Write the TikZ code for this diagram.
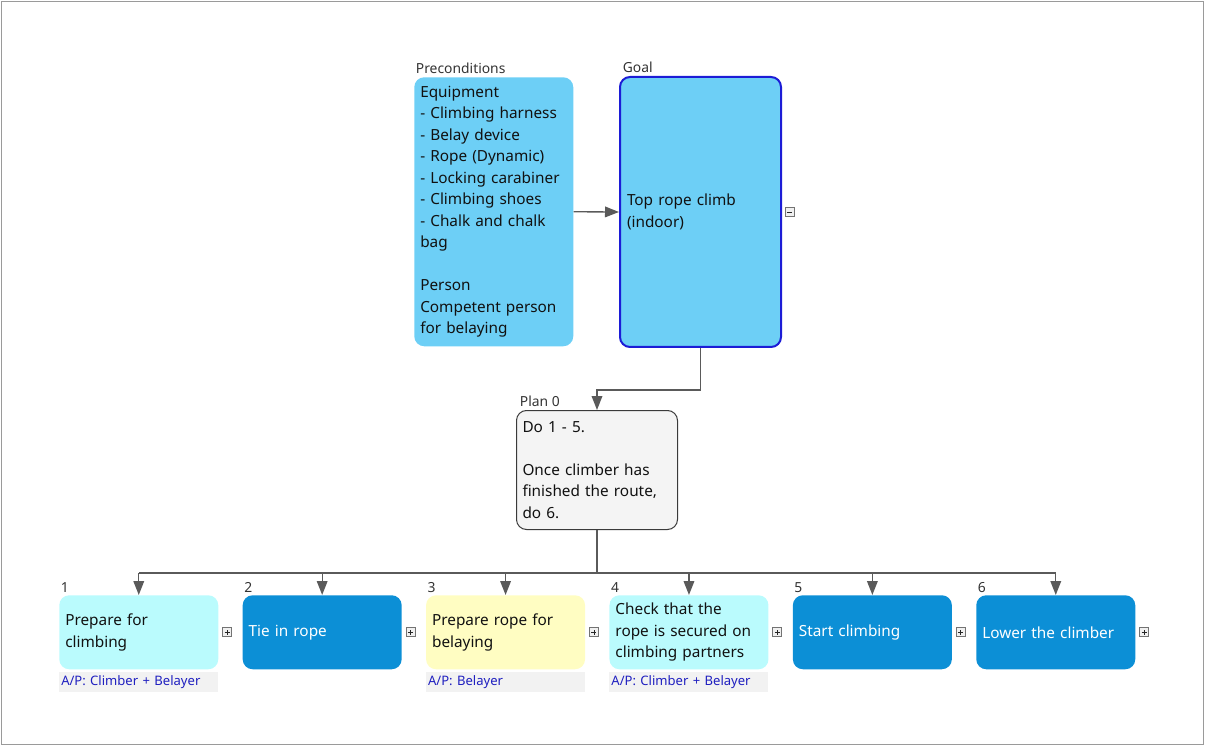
\documentclass[tikz,border=0pt]{standalone}
\usepackage{fontspec}
\setmainfont{Noto Sans}
\usepackage{xcolor}
\usetikzlibrary{positioning, arrows.meta}
\definecolor{skyfill}{HTML}{6DCFF6}
\definecolor{goalblue}{HTML}{1C1CD6}
\definecolor{planfill}{HTML}{F4F4F4}
\definecolor{planline}{HTML}{3A3A3A}
\definecolor{taskblue}{HTML}{0C8FD6}
\definecolor{taskcyan}{HTML}{BAFBFD}
\definecolor{taskyellow}{HTML}{FFFDC2}
\definecolor{apgray}{HTML}{F2F2F2}
\definecolor{apblue}{HTML}{2020C0}
\definecolor{conngray}{HTML}{5A5A5A}
\definecolor{framegray}{HTML}{9A9A9A}
\definecolor{inkdark}{HTML}{111111}

\tikzset{
  box/.style={anchor=north west, rounded corners=7.5pt, inner xsep=4.5pt,
    inner ysep=3pt, align=left, text=inkdark,
    font=\fontsize{11.5}{16.1}\selectfont},
  taskbox/.style={box, text width=110.25pt, minimum height=55.5pt},
  tasklight/.style={taskbox, fill=taskcyan},
  taskdark/.style={taskbox, fill=taskblue, text=white},
  taskyellow/.style={taskbox, fill=taskyellow},
  toplbl/.style={anchor=south west, inner xsep=1.2pt, inner ysep=2.5pt,
    text=black!80, font=\fontsize{10.4}{12}\selectfont},
  numlbl/.style={toplbl, inner ysep=1.5pt},
  apband/.style={anchor=north west, fill=apgray, text=apblue, align=left,
    inner xsep=1.5pt, inner ysep=0pt, text width=116.25pt,
    minimum height=15.5pt, font=\fontsize{9.8}{11}\selectfont},
  conn/.style={draw=conngray, line width=1pt},
  arr/.style={conn, -{Triangle[width=8pt, length=10.5pt]}},
  expbox/.style={draw=black!55, fill=black!6, minimum size=6.75pt,
    inner sep=0pt, line width=0.5pt},
  plusbox/.style={expbox, path picture={
    \draw[line width=0.6pt, black!85]
      ([xshift=-1.9pt]path picture bounding box.center) --
      ([xshift=1.9pt]path picture bounding box.center)
      ([yshift=-1.9pt]path picture bounding box.center) --
      ([yshift=1.9pt]path picture bounding box.center);}},
  minusbox/.style={expbox, path picture={
    \draw[line width=0.6pt, black!85]
      ([xshift=-1.9pt]path picture bounding box.center) --
      ([xshift=1.9pt]path picture bounding box.center);}}
}

\begin{document}
\begin{tikzpicture}[x=0.75pt, y=-0.75pt]
  % page and frame
  \useasboundingbox (0,0) rectangle (1206,748);
  \draw[framegray, line width=1.1pt] (1.5,1.5) rectangle (1203.5,744.5);

  % preconditions and goal
  \node[box, fill=skyfill, text width=110.25pt, minimum height=201.75pt]
    (precond) at (414,77) {Equipment\\- Climbing harness\\- Belay device\\
      - Rope (Dynamic)\\- Locking carabiner\\- Climbing shoes\\
      - Chalk and chalk\\bag\\[16.1pt]Person\\Competent person\\for belaying};
  \node[box, fill=skyfill, draw=goalblue, line width=1.5pt, inner xsep=5.25pt,
        text width=110.25pt, minimum height=202.5pt]
    (goal) at (619,76) {Top rope climb\\(indoor)};
  \node[toplbl] (precondlbl) at (precond.north west) {Preconditions};
  \node[toplbl] (goallbl) at ([xshift=1.5pt]goal.north west) {Goal};
  \node[minusbox, right=2pt of goal] (goalexp) {};
  \draw[arr] (precond.east) -- (goal.west);

  % plan
  \node[box, fill=planfill, draw=planline, line width=0.75pt,
        text width=111.75pt, minimum height=89.25pt]
    (plan) at (516,410) {Do 1 - 5.\\[16.1pt]Once climber has\\
      finished the route,\\do 6.};
  \node[toplbl] (planlbl) at ([xshift=1.5pt]plan.north west) {Plan 0};
  \draw[arr] (goal.south) -- ++(0,42) -| (plan.north);

  % subtasks
  \foreach \i/\sty/\txt in {1/tasklight/{Prepare for\\climbing},
      2/taskdark/{Tie in rope}, 3/taskyellow/{Prepare rope for\\belaying},
      4/tasklight/{Check that the\\rope is secured on\\climbing partners},
      5/taskdark/{Start climbing}, 6/taskdark/{Lower the climber}}
  {
    \pgfmathsetmacro{\xx}{59+(\i-1)*183.4}
    \node[\sty] (task\i) at (\xx,595) {\txt};
    \node[numlbl] (num\i) at (task\i.north west) {\i};
    \node[plusbox, right=2.8pt of task\i] (exp\i) {};
  }
  \foreach \i/\who in {1/Climber + Belayer, 3/Belayer, 4/Climber + Belayer}
    \node[apband] (ap\i) at ([yshift=-1.5pt]task\i.south west) {A/P: \who};

  % plan to subtasks
  \draw[conn] (plan.south) -- ++(0,43) coordinate (bus);
  \draw[conn] (task1.north |- bus) -- (task6.north |- bus);
  \foreach \i in {1,...,6}
    \draw[arr] (task\i.north |- bus) -- (task\i.north);
\end{tikzpicture}
\end{document}
